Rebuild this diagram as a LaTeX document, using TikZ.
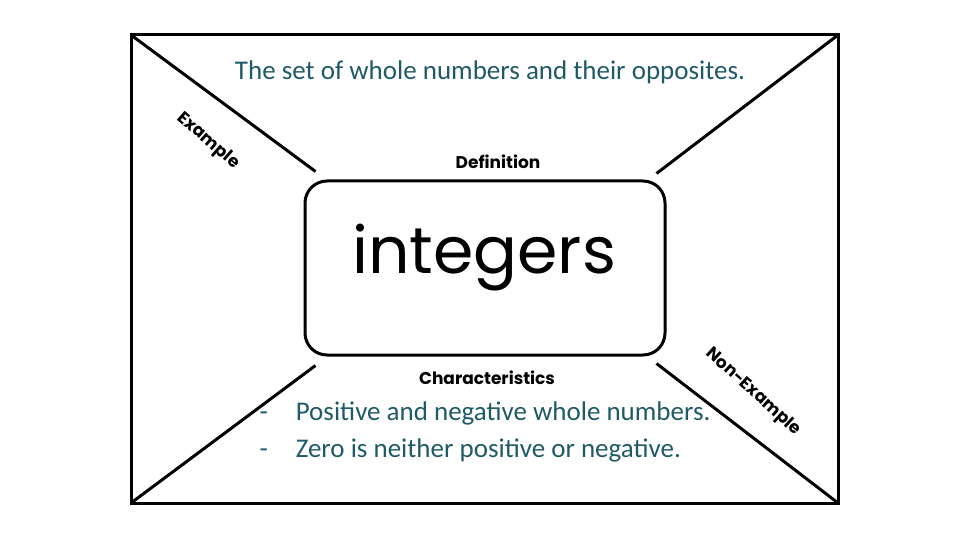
\documentclass[tikz,border=0pt]{standalone}
\usepackage{fontspec}
\setmainfont{Carlito}
\newfontfamily\lbl{Poppins}
\definecolor{teal1}{HTML}{1F5A66}
\begin{document}
\begin{tikzpicture}[x=1pt,y=-1pt,
  frame/.style={line width=3pt,black},
  lab/.style={font=\lbl\fontsize{17}{19}\selectfont\bfseries},
  tt/.style={text=teal1,font=\fontsize{27}{30}\selectfont}]
\useasboundingbox (0,0) rectangle (960,540);
\coordinate (A) at (131,35); \coordinate (B) at (838,35);
\coordinate (C) at (838,503); \coordinate (D) at (131,503);
\draw[frame] (A) rectangle (C);
\node[draw,line width=3pt,rounded corners=22pt,minimum width=360pt,minimum height=174pt] (box) at (485,268) {};
\draw[frame] (A) -- ([xshift=12pt,yshift=8pt]box.north west);
\draw[frame] (B) -- ([xshift=-10pt,yshift=6pt]box.north east);
\draw[frame] (D) -- ([xshift=12pt,yshift=-9pt]box.south west);
\draw[frame] (C) -- ([xshift=-10pt,yshift=-7pt]box.south east);
\node[font=\lbl\fontsize{65}{68}\selectfont] (int) at (484,258) {integers};
\node[tt] (def) at (490,72) {The set of whole numbers and their opposites.};
\node[lab] (d) at (498,162) {Definition};
\node[lab] (c) at (487,378) {Characteristics};
\node[lab,rotate=-41,inner sep=0pt] (e) at (208,141) {Example};
\node[lab,rotate=-42,inner sep=0pt] (n) at (753,392) {Non-Example};
\node[tt,anchor=west] (l1) at (256,413) {-\hspace{28pt}Positive and negative whole numbers.};
\node[tt,anchor=west] (l2) at (256,450) {-\hspace{28pt}Zero is neither positive or negative.};
\end{tikzpicture}
\end{document}
